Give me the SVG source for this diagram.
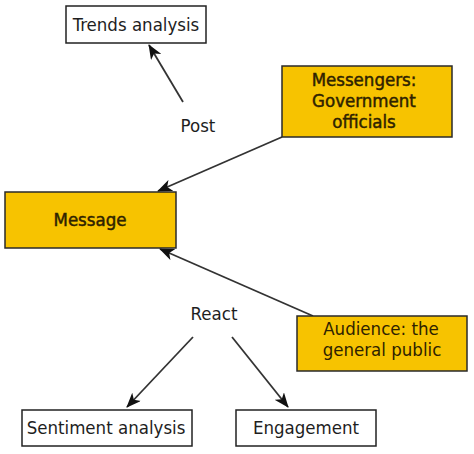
<svg xmlns="http://www.w3.org/2000/svg" width="474" height="454" viewBox="0 0 474 454">
<style>
.w{fill:#fff;stroke:#222;stroke-width:1.5}
.y{fill:#F7C300;stroke:#2a2a2a;stroke-width:1.5}
text{font-family:"DejaVu Sans Condensed","DejaVu Sans","Liberation Sans",sans-serif;font-stretch:condensed;font-size:18.5px;fill:#1e1e1e;text-anchor:middle}
.b{fill:#2e2200;stroke:#2e2200;stroke-width:0.45}
.n{fill:#2e2200}
.c{stroke:#333;stroke-width:1.8;fill:none}
</style>
<defs>
<marker id="ah" markerWidth="15" markerHeight="12" refX="14" refY="6" orient="auto" markerUnits="userSpaceOnUse">
<path d="M0,0 L15,6 L0,12 L4,6 Z" fill="#111"/>
</marker>
</defs>
<g id="connectors">
<line class="c" x1="183" y1="102" x2="149" y2="45" marker-end="url(#ah)"/>
<line class="c" x1="282" y1="137" x2="158" y2="191" marker-end="url(#ah)"/>
<line class="c" x1="313" y1="316" x2="160" y2="249" marker-end="url(#ah)"/>
<line class="c" x1="193" y1="337" x2="127" y2="407" marker-end="url(#ah)"/>
<line class="c" x1="232" y1="337" x2="288" y2="407" marker-end="url(#ah)"/>
</g>
<g id="trends">
<rect class="w" x="66" y="6" width="140" height="37"/>
<text x="136" y="31">Trends analysis</text>
</g>
<g id="post-label"><text x="198" y="132">Post</text></g>
<g id="messengers">
<rect class="y" x="282" y="66" width="170" height="71"/>
<text class="b" x="364" y="86">Messengers:</text>
<text class="b" x="364" y="107">Government</text>
<text class="b" x="364" y="128">officials</text>
</g>
<g id="message">
<rect class="y" x="5" y="192" width="171" height="56"/>
<text class="b" x="90" y="226">Message</text>
</g>
<g id="react-label"><text x="214" y="320">React</text></g>
<g id="audience">
<rect class="y" x="297" y="316" width="170" height="55"/>
<text class="n" x="381" y="335">Audience: the</text>
<text class="n" x="382" y="356">general public</text>
</g>
<g id="sentiment">
<rect class="w" x="22" y="410" width="170" height="36"/>
<text x="106" y="434">Sentiment analysis</text>
</g>
<g id="engagement">
<rect class="w" x="236" y="410" width="140" height="36"/>
<text x="306" y="434">Engagement</text>
</g>
</svg>
